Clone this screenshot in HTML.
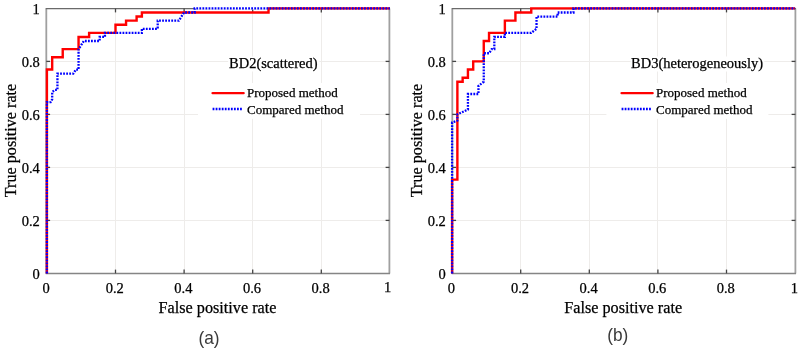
<!DOCTYPE html>
<html><head><meta charset="utf-8"><style>
html,body{margin:0;padding:0;background:#fff;}
svg{display:block;will-change:transform;}
text{stroke:#000;stroke-width:0.25px;}
.grid{stroke:#eeecea;stroke-width:1;}
.boxv{stroke:#a0a0a0;stroke-width:1.8;}
.boxt{stroke:#6a6a6a;stroke-width:1.3;}
.boxb{stroke:#858585;stroke-width:1.5;}
.tick{stroke:#444;stroke-width:1.3;}
.tl{font-family:"Liberation Serif",serif;font-size:14.5px;fill:#000;}
.al{font-family:"Liberation Serif",serif;font-size:16.2px;fill:#000;}
.tt{font-family:"Liberation Serif",serif;font-size:14.5px;fill:#000;}
.lg{font-family:"Liberation Serif",serif;font-size:13px;fill:#000;}
.sub{font-family:"Liberation Sans",sans-serif;font-size:17.3px;fill:#3a3a3a;stroke:none;}
.red{fill:none;stroke:#ff0000;stroke-width:2.4;stroke-linejoin:miter;}
.blue{fill:none;stroke:#0000ff;stroke-width:2.3;stroke-dasharray:1.8 1.25;}
.lred{stroke:#ff0000;stroke-width:2.4;stroke-linecap:round;}
.lblue{stroke:#0000ff;stroke-width:2.3;stroke-dasharray:1.8 1.25;}
</style></head><body>
<svg width="801" height="350" viewBox="0 0 801 350">
<rect width="801" height="350" fill="#fff"/>
<line x1="115.50" y1="8.6" x2="115.50" y2="273.4" class="grid"/>
<line x1="46.3" y1="220.50" x2="389.4" y2="220.50" class="grid"/>
<line x1="184.50" y1="8.6" x2="184.50" y2="273.4" class="grid"/>
<line x1="46.3" y1="167.50" x2="389.4" y2="167.50" class="grid"/>
<line x1="252.50" y1="8.6" x2="252.50" y2="273.4" class="grid"/>
<line x1="46.3" y1="114.50" x2="389.4" y2="114.50" class="grid"/>
<line x1="321.50" y1="8.6" x2="321.50" y2="273.4" class="grid"/>
<line x1="46.3" y1="61.50" x2="389.4" y2="61.50" class="grid"/>
<line x1="46.3" y1="8.6" x2="46.3" y2="273.4" class="boxv"/>
<line x1="389.4" y1="8.6" x2="389.4" y2="273.4" class="boxv"/>
<line x1="45.699999999999996" y1="8.6" x2="390.0" y2="8.6" class="boxt"/>
<line x1="45.699999999999996" y1="273.4" x2="390.0" y2="273.4" class="boxb"/>
<text x="46.20" y="293.4" class="tl" text-anchor="middle">0</text>
<text x="39.80" y="279.00" class="tl" text-anchor="end">0</text>
<line x1="115.50" y1="273.4" x2="115.50" y2="269.59999999999997" class="tick"/>
<line x1="115.50" y1="8.6" x2="115.50" y2="12.399999999999999" class="tick"/>
<line x1="46.3" y1="220.40" x2="50.099999999999994" y2="220.40" class="tick"/>
<line x1="389.4" y1="220.40" x2="385.59999999999997" y2="220.40" class="tick"/>
<text x="114.80" y="293.4" class="tl" text-anchor="middle">0.2</text>
<text x="39.80" y="226.00" class="tl" text-anchor="end">0.2</text>
<line x1="184.10" y1="273.4" x2="184.10" y2="269.59999999999997" class="tick"/>
<line x1="184.10" y1="8.6" x2="184.10" y2="12.399999999999999" class="tick"/>
<line x1="46.3" y1="167.40" x2="50.099999999999994" y2="167.40" class="tick"/>
<line x1="389.4" y1="167.40" x2="385.59999999999997" y2="167.40" class="tick"/>
<text x="183.40" y="293.4" class="tl" text-anchor="middle">0.4</text>
<text x="39.80" y="173.00" class="tl" text-anchor="end">0.4</text>
<line x1="252.70" y1="273.4" x2="252.70" y2="269.59999999999997" class="tick"/>
<line x1="252.70" y1="8.6" x2="252.70" y2="12.399999999999999" class="tick"/>
<line x1="46.3" y1="114.40" x2="50.099999999999994" y2="114.40" class="tick"/>
<line x1="389.4" y1="114.40" x2="385.59999999999997" y2="114.40" class="tick"/>
<text x="252.00" y="293.4" class="tl" text-anchor="middle">0.6</text>
<text x="39.80" y="120.00" class="tl" text-anchor="end">0.6</text>
<line x1="321.30" y1="273.4" x2="321.30" y2="269.59999999999997" class="tick"/>
<line x1="321.30" y1="8.6" x2="321.30" y2="12.399999999999999" class="tick"/>
<line x1="46.3" y1="61.40" x2="50.099999999999994" y2="61.40" class="tick"/>
<line x1="389.4" y1="61.40" x2="385.59999999999997" y2="61.40" class="tick"/>
<text x="320.60" y="293.4" class="tl" text-anchor="middle">0.8</text>
<text x="39.80" y="67.00" class="tl" text-anchor="end">0.8</text>
<text x="387.60" y="291.9" class="tl" text-anchor="middle">1</text>
<text x="39.80" y="14.00" class="tl" text-anchor="end">1</text>
<rect x="198" y="83" width="162" height="35.8" fill="#fff"/>
<rect x="228.2" y="56.5" width="91.1" height="15" fill="#fff"/>
<line x1="194.65" y1="8.6" x2="268.53" y2="8.6" stroke="#fff" stroke-width="1.6"/>
<path d="M46.90,273.40L46.90,69.55L52.18,69.55L52.18,57.32L62.73,57.32L62.73,49.17L78.56,49.17L78.56,36.94L89.12,36.94L89.12,32.86L115.50,32.86L115.50,24.71L126.05,24.71L126.05,20.63L136.61,20.63L136.61,16.55L141.88,16.55L141.88,12.48L268.53,12.48L268.53,8.40L389.90,8.40" class="red"/>
<path d="M46.90,273.40L46.90,102.17L50.59,102.17L52.18,99.32L52.18,91.98L54.82,89.94L57.45,89.94L57.45,73.63L73.28,73.63L75.92,69.55L78.56,69.55L78.56,49.17L83.84,41.02L99.67,41.02L99.67,36.94L104.95,36.94L104.95,32.86L141.88,32.86L141.88,28.78L157.72,28.78L157.72,20.63L178.82,20.63L184.10,12.48L194.65,12.48L194.65,8.40L389.90,8.40" class="blue"/>
<text x="217.50" y="312.5" class="al" text-anchor="middle">False positive rate</text>
<text transform="translate(16,140.5) rotate(-90)" class="al" text-anchor="middle">True positive rate</text>
<text x="229" y="68.3" class="tt">BD2(scattered)</text>
<line x1="212.6" y1="93.1" x2="243.6" y2="93.1" class="lred"/>
<line x1="212.6" y1="109" x2="243.1" y2="109" class="lblue"/>
<text x="247" y="97.4" class="lg">Proposed method</text>
<text x="247" y="113.6" class="lg">Compared method</text>
<text transform="translate(209,343.7) scale(1,1.1)" class="sub" text-anchor="middle">(a)</text>
<line x1="520.50" y1="8.6" x2="520.50" y2="273.4" class="grid"/>
<line x1="452.3" y1="220.50" x2="795.4" y2="220.50" class="grid"/>
<line x1="589.50" y1="8.6" x2="589.50" y2="273.4" class="grid"/>
<line x1="452.3" y1="167.50" x2="795.4" y2="167.50" class="grid"/>
<line x1="657.50" y1="8.6" x2="657.50" y2="273.4" class="grid"/>
<line x1="452.3" y1="114.50" x2="795.4" y2="114.50" class="grid"/>
<line x1="726.50" y1="8.6" x2="726.50" y2="273.4" class="grid"/>
<line x1="452.3" y1="61.50" x2="795.4" y2="61.50" class="grid"/>
<line x1="452.3" y1="8.6" x2="452.3" y2="273.4" class="boxv"/>
<line x1="795.4" y1="8.6" x2="795.4" y2="273.4" class="boxv"/>
<line x1="451.7" y1="8.6" x2="796.0" y2="8.6" class="boxt"/>
<line x1="451.7" y1="273.4" x2="796.0" y2="273.4" class="boxb"/>
<text x="451.40" y="293.4" class="tl" text-anchor="middle">0</text>
<text x="445.80" y="279.00" class="tl" text-anchor="end">0</text>
<line x1="520.70" y1="273.4" x2="520.70" y2="269.59999999999997" class="tick"/>
<line x1="520.70" y1="8.6" x2="520.70" y2="12.399999999999999" class="tick"/>
<line x1="452.3" y1="220.40" x2="456.1" y2="220.40" class="tick"/>
<line x1="795.4" y1="220.40" x2="791.6" y2="220.40" class="tick"/>
<text x="520.00" y="293.4" class="tl" text-anchor="middle">0.2</text>
<text x="445.80" y="226.00" class="tl" text-anchor="end">0.2</text>
<line x1="589.30" y1="273.4" x2="589.30" y2="269.59999999999997" class="tick"/>
<line x1="589.30" y1="8.6" x2="589.30" y2="12.399999999999999" class="tick"/>
<line x1="452.3" y1="167.40" x2="456.1" y2="167.40" class="tick"/>
<line x1="795.4" y1="167.40" x2="791.6" y2="167.40" class="tick"/>
<text x="588.60" y="293.4" class="tl" text-anchor="middle">0.4</text>
<text x="445.80" y="173.00" class="tl" text-anchor="end">0.4</text>
<line x1="657.90" y1="273.4" x2="657.90" y2="269.59999999999997" class="tick"/>
<line x1="657.90" y1="8.6" x2="657.90" y2="12.399999999999999" class="tick"/>
<line x1="452.3" y1="114.40" x2="456.1" y2="114.40" class="tick"/>
<line x1="795.4" y1="114.40" x2="791.6" y2="114.40" class="tick"/>
<text x="657.20" y="293.4" class="tl" text-anchor="middle">0.6</text>
<text x="445.80" y="120.00" class="tl" text-anchor="end">0.6</text>
<line x1="726.50" y1="273.4" x2="726.50" y2="269.59999999999997" class="tick"/>
<line x1="726.50" y1="8.6" x2="726.50" y2="12.399999999999999" class="tick"/>
<line x1="452.3" y1="61.40" x2="456.1" y2="61.40" class="tick"/>
<line x1="795.4" y1="61.40" x2="791.6" y2="61.40" class="tick"/>
<text x="725.80" y="293.4" class="tl" text-anchor="middle">0.8</text>
<text x="445.80" y="67.00" class="tl" text-anchor="end">0.8</text>
<text x="794.40" y="293.4" class="tl" text-anchor="middle">1</text>
<text x="445.80" y="14.00" class="tl" text-anchor="end">1</text>
<rect x="606.4" y="83" width="162" height="35.8" fill="#fff"/>
<rect x="630.7" y="56.5" width="133.6" height="15" fill="#fff"/>
<path d="M452.10,273.40L452.10,179.63L457.38,179.63L457.38,81.78L462.65,81.78L462.65,77.71L467.93,77.71L467.93,69.55L473.21,69.55L473.21,61.40L483.76,61.40L483.76,41.02L489.04,41.02L489.04,32.86L504.87,32.86L504.87,20.63L515.42,20.63L515.42,12.48L531.25,12.48L531.25,8.40L795.10,8.40" class="red"/>
<path d="M452.10,273.40L452.10,122.55L457.38,120.52L457.38,114.40L467.93,109.51L467.93,94.02L478.48,94.02L478.48,85.86L483.76,81.78L483.76,53.25L489.04,53.25L491.68,49.17L494.32,49.17L494.32,36.94L504.87,36.94L504.87,32.86L531.25,32.86L536.53,28.78L536.53,16.55L557.64,16.55L557.64,12.48L573.47,12.48L573.47,8.40L795.10,8.40" class="blue"/>
<text x="623.20" y="312.5" class="al" text-anchor="middle">False positive rate</text>
<text transform="translate(422.0,140.5) rotate(-90)" class="al" text-anchor="middle">True positive rate</text>
<text x="631" y="68.3" class="tt">BD3(heterogeneously)</text>
<line x1="621.6" y1="93.1" x2="652.6" y2="93.1" class="lred"/>
<line x1="621.6" y1="109" x2="652.1" y2="109" class="lblue"/>
<text x="656" y="97.4" class="lg">Proposed method</text>
<text x="656" y="113.6" class="lg">Compared method</text>
<text transform="translate(617.7,341) scale(1,1.1)" class="sub" text-anchor="middle">(b)</text>
</svg>
</body></html>
